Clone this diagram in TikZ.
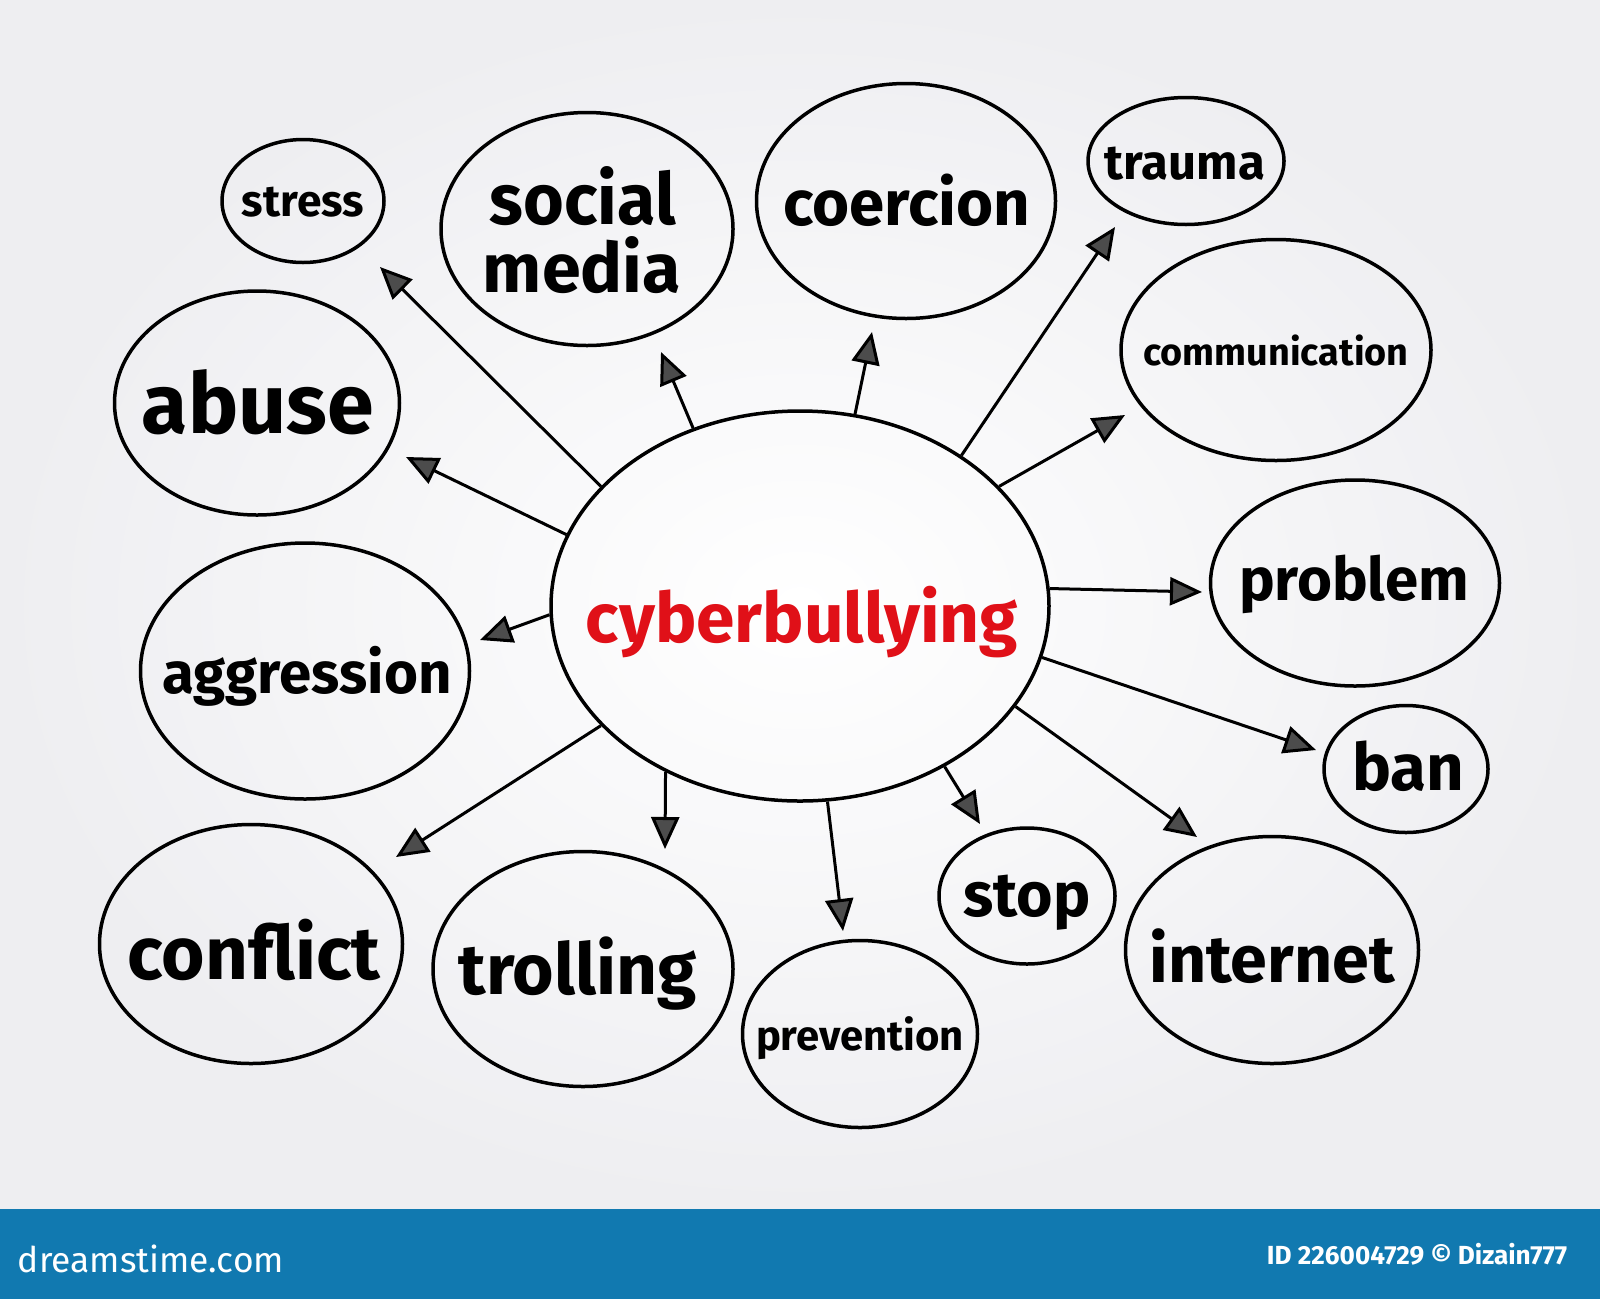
\documentclass[tikz,border=0pt]{standalone}
\usepackage{fontspec}
\setmainfont{Fira Sans}
\usetikzlibrary{arrows.meta,shapes.geometric}
\definecolor{bgedge}{RGB}{238,238,241}
\definecolor{bannerblue}{RGB}{17,121,176}
\definecolor{cbred}{RGB}{224,16,24}
\tikzset{
  bub/.style={draw=black, line width=3.5pt, shape=ellipse, inner sep=0pt},
  txt/.style={inner sep=0pt, font=\bfseries},
  arr/.style={line width=3pt, draw=black, -{Triangle[length=32pt,width=28pt,fill=black!70]}},
}
\newcommand\bubble[5]{\node[bub,minimum width=#4pt,minimum height=#5pt] (#1) at (#2,#3) {};}
\newcommand\word[5]{\node[txt] (#1) at (#2,#3) {\resizebox{#4pt}{!}{#5}};}
\begin{document}
\begin{tikzpicture}[x=1pt,y=-1pt]
\useasboundingbox (0,0) rectangle (1600,1299);
\shade[inner color=white, outer color=bgedge] (0,0) rectangle (1600,1209);
\fill[bannerblue] (0,1209) rectangle (1600,1299);
\node[inner sep=0pt, text=white] (logo) at (151,1259) {\resizebox{266pt}{!}{dreamstime.com}};
\node[inner sep=0pt, text=white, font=\bfseries] (idtxt) at (1417,1254) {\resizebox{300pt}{!}{ID 226004729 © Dizain777}};

% central
\bubble{c}{800}{606}{498}{390}
\node[txt, text=cbred] (c-t) at (802,622) {\resizebox{432pt}{!}{cyberbullying}};

% outer bubbles
\bubble{stress}{303}{201}{162}{123}
\word{stress-t}{303}{202}{122}{stress}
\bubble{social}{587}{229}{292}{233}
\node[txt] (social-t) at (583,196) {\resizebox{186pt}{58pt}{social}};
\node[txt] (media-t) at (582,265) {\resizebox{198pt}{56pt}{media}};
\bubble{coercion}{906}{201}{299}{235}
\word{coercion-t}{907}{200}{247}{coercion}
\bubble{trauma}{1186}{161}{196}{127}
\word{trauma-t}{1185}{164}{160}{trauma}
\bubble{comm}{1276}{350}{310}{221}
\word{comm-t}{1276}{350}{265}{communication}
\bubble{abuse}{257}{403}{285}{224}
\word{abuse-t}{258}{402}{232}{abuse}
\bubble{problem}{1355}{583}{289}{206}
\word{problem-t}{1354}{584}{230}{problem}
\bubble{aggr}{305}{671}{329}{256}
\word{aggr-t}{307}{676}{289}{aggression}
\bubble{ban}{1406}{769}{164}{127}
\word{ban-t}{1408}{766}{112}{ban}
\bubble{conflict}{251}{944}{303}{239}
\word{conflict-t}{254}{950}{253}{conflict}
\bubble{trolling}{583}{969}{300}{235}
\word{trolling-t}{578}{974}{238}{trolling}
\bubble{prev}{860}{1034}{235}{187}
\word{prev-t}{860}{1038}{208}{prevention}
\bubble{stop}{1027}{896}{176}{136}
\word{stop-t}{1027}{903}{127}{stop}
\bubble{internet}{1272}{950}{293}{227}
\word{internet-t}{1272}{956}{245}{internet}

% arrow tips
\coordinate (tStress) at (380,267);
\coordinate (tSocial) at (661,352);
\coordinate (tCoercion) at (872,332);
\coordinate (tTrauma) at (1115,227);
\coordinate (tComm) at (1125,415);
\coordinate (tAbuse) at (406,457);
\coordinate (tProblem) at (1202,592);
\coordinate (tAggr) at (480,640);
\coordinate (tBan) at (1316,750);
\coordinate (tConflict) at (396,857);
\coordinate (tTrolling) at (665,849);
\coordinate (tPrev) at (843,931);
\coordinate (tStop) at (980,824);
\coordinate (tInternet) at (1197,837);

\draw[arr] (c.149) -- (tStress);
\draw[arr] (c.121) -- (tSocial);
\draw[arr] (c.74) -- (tCoercion);
\draw[arr] (c.43) -- (tTrauma);
\draw[arr] (c.31) -- (tComm);
\draw[arr] (c.163) -- (tAbuse);
\draw[arr] (c.4) -- (tProblem);
\draw[arr] (c.182) -- (tAggr);
\draw[arr] (c.-12) -- (tBan);
\draw[arr] (c.211) -- (tConflict);
\draw[arr] (c.231) -- (tTrolling);
\draw[arr] (c.278) -- (tPrev);
\draw[arr] (c.312) -- (tStop);
\draw[arr] (c.335) -- (tInternet);
\end{tikzpicture}
\end{document}
